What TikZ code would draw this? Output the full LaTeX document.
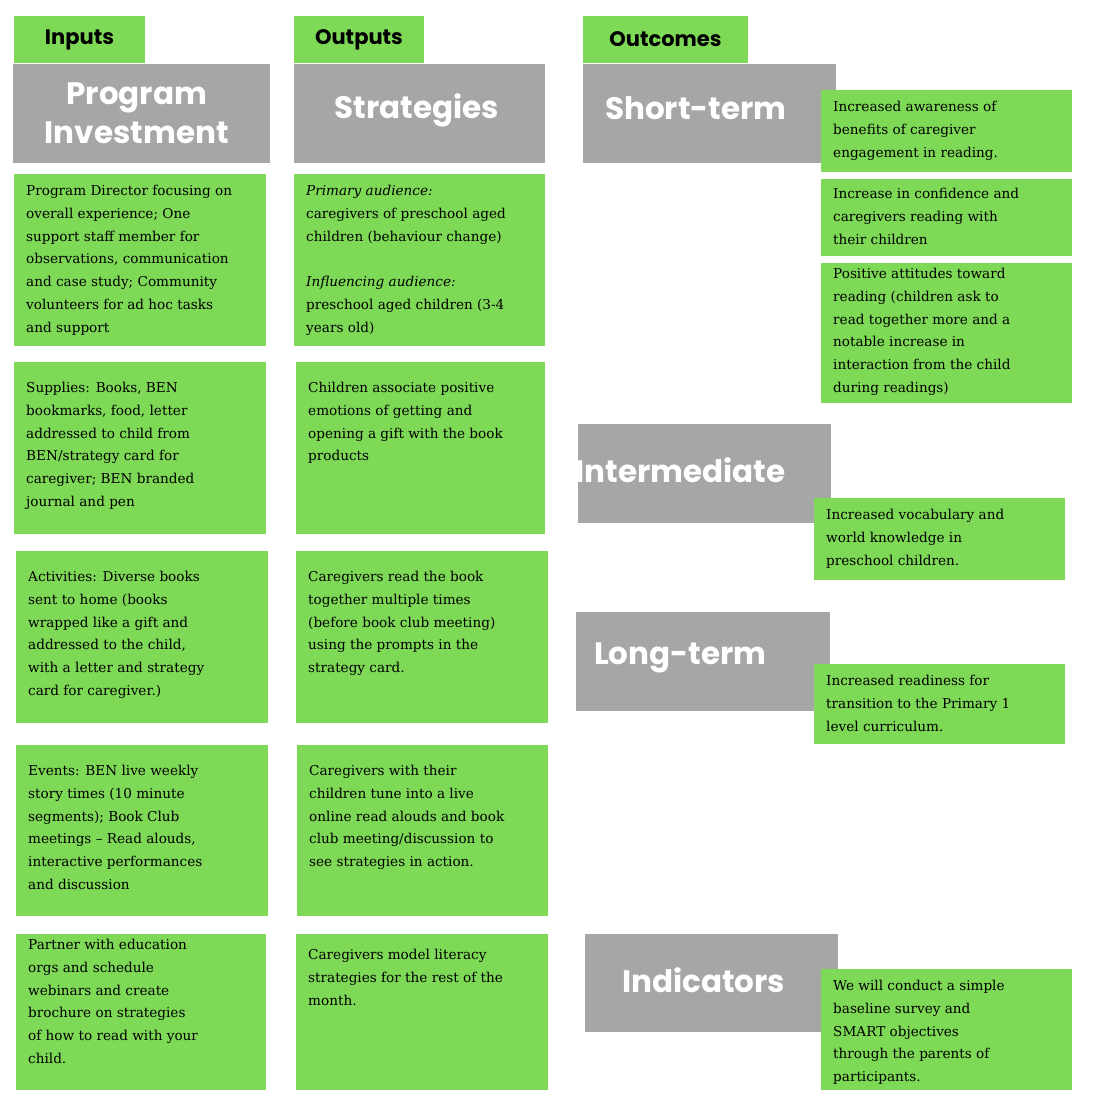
\documentclass[tikz,border=0pt]{standalone}
\usepackage{fontspec}
\setmainfont{DejaVu Serif}
\newfontfamily\headfont{Poppins}
\usetikzlibrary{calc}
\definecolor{gr}{HTML}{7ED957}
\definecolor{gy}{HTML}{A6A6A6}
\newcommand\gbox[7][11]{%
  \node[fill=gr,draw=none,anchor=north west,inner sep=0pt,minimum width={#5-#3},minimum height={#6-#4}] (#2) at (#3,#4) {};
  \node[anchor=north west,inner sep=0pt,align=left,font=\fontsize{13.6}{22.8}\selectfont] (#2t) at ($(#3,#4)+(12,#1)$) {#7};}
\newcommand\tab[6]{%
  \node[fill=gr,draw=none,anchor=north west,inner sep=0pt,minimum width={#4-#2},minimum height={#5-#3}] (#1) at (#2,#3) {};
  \node[font=\headfont\bfseries\fontsize{21}{24}\selectfont] (#1t) at ($(#2,#3)!0.5!(#4,#5)$) {#6};}
\begin{document}
\begin{tikzpicture}[x=1pt,y=-1pt]
\useasboundingbox (0,0) rectangle (1092,1108);
\tab{ti}{14}{16}{145}{63}{Inputs}
\tab{to}{294}{16}{424}{63}{Outputs}
\tab{tc}{583}{16}{748}{63}{Outcomes}
\tikzset{hd/.style={fill=gy,draw=none,anchor=north west,inner sep=0pt},
 ht/.style={text=white,align=center,font=\headfont\bfseries\fontsize{31}{39}\selectfont}}
\node[hd,minimum width=257,minimum height=99] (h1) at (13,64) {};
\node[ht] at ($(h1.center)+(-5,0)$) {Program\\Investment};
\node[hd,minimum width=251,minimum height=99] (h2) at (294,64) {};
\node[ht] at ($(h2.center)+(-3,-3)$) {Strategies};
\node[hd,minimum width=253,minimum height=99] (h3) at (583,64) {};
\node[ht] at ($(h3.center)+(-14,-6)$) {Short-term};
\node[hd,minimum width=253,minimum height=99] (h4) at (578,424) {};
\node[ht] at ($(h4.center)+(-24,-3)$) {Intermediate};
\node[hd,minimum width=254,minimum height=99] (h5) at (576,612) {};
\node[ht] at ($(h5.center)+(-23,-4)$) {Long-term};
\node[hd,minimum width=253,minimum height=98] (h6) at (585,934) {};
\node[ht] at ($(h6.center)+(-8,-3)$) {Indicators};

\gbox{a1}{14}{174}{266}{346}{Program Director focusing on\\overall experience; One\\support staff member for\\observations, communication\\and case study; Community\\volunteers for ad hoc tasks\\and support}
\gbox[20]{a2}{14}{362}{266}{534}{Supplies: Books, BEN\\bookmarks, food, letter\\addressed to child from\\BEN/strategy card for\\caregiver; BEN branded\\journal and pen}
\gbox[20]{a3}{16}{551}{268}{723}{Activities: Diverse books\\sent to home (books\\wrapped like a gift and\\addressed to the child,\\with a letter and strategy\\card for caregiver.)}
\gbox[20]{a4}{16}{745}{268}{916}{Events: BEN live weekly\\story times (10 minute\\segments); Book Club\\meetings – Read alouds,\\interactive performances\\and discussion}
\gbox[5]{a5}{16}{934}{266}{1090}{Partner with education\\orgs and schedule\\webinars and create\\brochure on strategies\\of how to read with your\\child.}

\gbox{b1}{294}{174}{545}{346}{\textit{Primary audience:}\\caregivers of preschool aged\\children (behaviour change)\\[22.8pt]\textit{Influencing audience:}\\preschool aged children (3-4\\years old)}
\gbox[20]{b2}{296}{362}{545}{534}{Children associate positive\\emotions of getting and\\opening a gift with the book\\products}
\gbox[20]{b3}{296}{551}{548}{723}{Caregivers read the book\\together multiple times\\(before book club meeting)\\using the prompts in the\\strategy card.}
\gbox[20]{b4}{297}{745}{548}{916}{Caregivers with their\\children tune into a live\\online read alouds and book\\club meeting/discussion to\\see strategies in action.}
\gbox[15]{b5}{296}{934}{548}{1090}{Caregivers model literacy\\strategies for the rest of the\\month.}

\gbox{c1}{821}{90}{1072}{172}{Increased awareness of\\benefits of caregiver\\engagement in reading.}
\gbox[9]{c2}{821}{179}{1072}{256}{Increase in confidence and\\caregivers reading with\\their children}
\gbox[5]{c3}{821}{263}{1072}{403}{Positive attitudes toward\\reading (children ask to\\read together more and a\\notable increase in\\interaction from the child\\during readings)}
\gbox{c4}{814}{498}{1065}{580}{Increased vocabulary and\\world knowledge in\\preschool children.}
\gbox{c5}{814}{664}{1065}{744}{Increased readiness for\\transition to the Primary 1\\level curriculum.}
\gbox{c6}{821}{969}{1072}{1090}{We will conduct a simple\\baseline survey and\\SMART objectives\\through the parents of\\participants.}
\end{tikzpicture}
\end{document}
